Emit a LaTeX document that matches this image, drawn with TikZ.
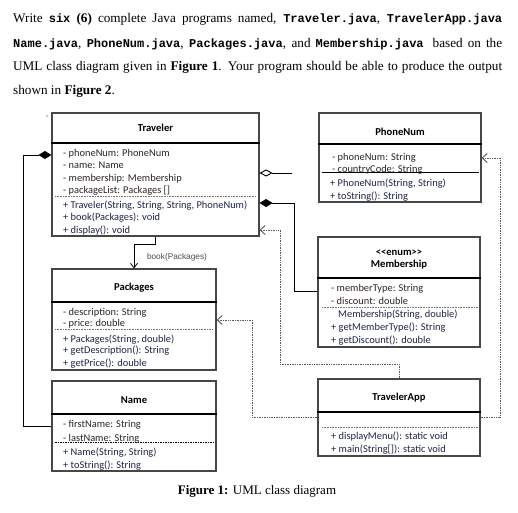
\documentclass[tikz,border=0pt]{standalone}
\usepackage{fontspec}
\setmainfont{Liberation Serif}
\setmonofont{Liberation Mono}
\newfontfamily\umlfont{Carlito}
\newfontfamily\lblfont{Liberation Sans}
\usetikzlibrary{arrows.meta}
\definecolor{attrcol}{RGB}{45,38,34}
\definecolor{methcol}{RGB}{30,36,72}
\newcommand{\cd}[1]{{\fontsize{12}{14}\selectfont\textbf{\texttt{#1}}}}
\begin{document}
\begin{tikzpicture}[x=1pt,y=-1pt,
  umlbox/.style={draw=black!72, line width=1.1pt, inner sep=0pt, fill=white},
  hdrline/.style={line width=1.4pt, black},
  sepdot/.style={line width=0.8pt, black!55, dash pattern=on 0.9pt off 0.7pt},
  title/.style={font=\umlfont\bfseries\fontsize{10.6}{12}\selectfont, anchor=base, inner sep=0pt},
  attr/.style={font=\umlfont\fontsize{10.4}{12}\selectfont, anchor=base west, inner sep=0pt, text=attrcol},
  meth/.style={font=\umlfont\fontsize{10.4}{12}\selectfont, anchor=base west, inner sep=0pt, text=methcol},
  para/.style={font=\fontsize{13.2}{15}\selectfont, anchor=base west, inner sep=0pt},
  assoc/.style={line width=0.9pt, black},
  dep/.style={line width=0.9pt, black!65, dash pattern=on 1pt off 0.7pt, -{Straight Barb[length=5pt,width=9pt]}},
]
\useasboundingbox (0,0) rectangle (518,512);
\fill[white] (0,0) rectangle (518,512);

% paragraph
\node[para] (p1) at (13,22) {\makebox[489pt][s]{Write \cd{six} \textbf{(6)} complete Java programs named, \cd{Traveler.java}, \cd{TravelerApp.java}}};
\node[para] (p2) at (13,47) {\makebox[489pt][s]{\cd{Name.java}, \cd{PhoneNum.java}, \cd{Packages.java}, and \cd{Membership.java}\hspace{4pt} based on the}};
\node[para] (p3) at (13,70) {\makebox[489pt][s]{UML class diagram given in \textbf{Figure 1}. Your program should be able to produce the output}};
\node[para] (p4) at (13,94) {shown in \textbf{Figure 2}.};

\fill (47,116) circle (0.6pt);

% boxes
\node[umlbox, minimum width=207pt, minimum height=123pt] (trav) at (155.5,174.5) {};
\node[umlbox, minimum width=162pt, minimum height=89pt] (phone) at (400,157.5) {};
\node[umlbox, minimum width=162pt, minimum height=110pt] (memb) at (399,292) {};
\node[umlbox, minimum width=164pt, minimum height=101pt] (pack) at (134,319.5) {};
\node[umlbox, minimum width=164pt, minimum height=90pt] (name) at (134,426) {};
\node[umlbox, minimum width=162pt, minimum height=77pt] (tapp) at (399,417.5) {};

% header lines
\draw[hdrline] (trav.west |- 0,143) -- (trav.east |- 0,143);
\draw[hdrline] (phone.west |- 0,144) -- (phone.east |- 0,144);
\draw[hdrline] (memb.west |- 0,278) -- (memb.east |- 0,278);
\draw[hdrline] (pack.west |- 0,302) -- (pack.east |- 0,302);
\draw[hdrline] (name.west |- 0,414) -- (name.east |- 0,414);
\draw[hdrline] (tapp.west |- 0,412) -- (tapp.east |- 0,412);

% separators
\draw[sepdot] (55,196) -- (256,196);
\draw[line width=0.9pt, black] (322,172) -- (479,172);
\draw[sepdot] (322,307) -- (478,307);
\draw[sepdot] (55,329) -- (213,329);
\draw[line width=0.9pt, black, dash pattern=on 1.6pt off 0.9pt] (55,442) -- (215,442);
\draw[sepdot] (322,427) -- (478,427);

% Traveler
\node[title] (travT) at (155.5,131) {Traveler};
\node[attr] (tr1) at (63,156) {- phoneNum: PhoneNum};
\node[attr] (tr2) at (63,168) {- name: Name};
\node[attr] (tr3) at (63,181) {- membership: Membership};
\node[attr] (tr4) at (63,193) {- packageList: Packages []};
\node[meth] (tr5) at (63,208) {+ Traveler(String, String, String, PhoneNum)};
\node[meth] (tr6) at (63,220.5) {+ book(Packages): void};
\node[meth] (tr7) at (63,233) {+ display(): void};

% PhoneNum
\node[title] (phT) at (400,135) {PhoneNum};
\node[attr] (ph1) at (332,160) {- phoneNum: String};
\node[attr] (ph2) at (332,172) {- countryCode: String};
\node[meth] (ph3) at (330,186) {+ PhoneNum(String, String)};
\node[meth] (ph4) at (330,199) {+ toString(): String};

% Membership
\node[title] (meE) at (399,255) {<<enum>>};
\node[title] (meT) at (399,267) {Membership};
\node[attr] (me1) at (331,291) {- memberType: String};
\node[attr] (me2) at (331,304) {- discount: double};
\node[meth] (me3) at (338,317) {Membership(String, double)};
\node[meth] (me4) at (331,330) {+ getMemberType(): String};
\node[meth] (me5) at (331,343) {+ getDiscount(): double};

% Packages
\node[title] (paT) at (134,290) {Packages};
\node[attr] (pa1) at (63,315) {- description: String};
\node[attr] (pa2) at (63,326) {- price: double};
\node[meth] (pa3) at (63,342) {+ Packages(String, double)};
\node[meth] (pa4) at (63,353) {+ getDescription(): String};
\node[meth] (pa5) at (63,366) {+ getPrice(): double};

% Name
\node[title] (naT) at (134,403) {Name};
\node[attr] (na1) at (63,427) {- firstName: String};
\node[attr] (na2) at (63,441) {- lastName: String};
\node[meth] (na3) at (63,455) {+ Name(String, String)};
\node[meth] (na4) at (63,468) {+ toString(): String};

% TravelerApp
\node[title] (taT) at (399,400) {TravelerApp};
\node[meth] (ta1) at (331,439) {+ displayMenu(): static void};
\node[meth] (ta2) at (331,452) {+ main(String[]): static void};

% connectors
\draw[assoc, {Diamond[length=13pt,width=8pt]}-] (trav.west |- 0,155) -- (23,155) -- (23,426) -- (name.west |- 0,426);
\coordinate (aggEnd) at (292,173);
\draw[assoc, {Diamond[open,length=13pt,width=7pt,fill=white]}-] (trav.east |- 0,173) -- (aggEnd);
\draw[assoc, {Diamond[length=13pt,width=8pt]}-] (trav.east |- 0,203) -- (294,203) -- (294,291) -- (memb.west |- 0,291);
\draw[dep] (tapp.north -| 399,0) -- (399,364) -- (280,364) -- (280,230) -- (trav.east |- 0,230);
\draw[dep] (tapp.west |- 0,417) -- (252,417) -- (252,320) -- (pack.east |- 0,320);
\draw[dep] (tapp.east |- 0,417) -- (500,417) -- (500,158) -- (phone.east |- 0,158);
\draw[line width=0.8pt, black, -{Straight Barb[length=4.5pt,width=7pt]}] (trav.south -| 155,0) -- (155,244) -- (134,244) -- (pack.north -| 134,0);
\node[font=\lblfont\fontsize{8.3}{10}\selectfont, text=black!70, inner sep=0pt] (booklbl) at (177,257) {book(Packages)};

% caption
\node[font=\fontsize{13}{15}\selectfont, anchor=base, inner sep=0pt] (cap) at (257,494) {\textbf{Figure 1:} UML class diagram};
\end{tikzpicture}
\end{document}
